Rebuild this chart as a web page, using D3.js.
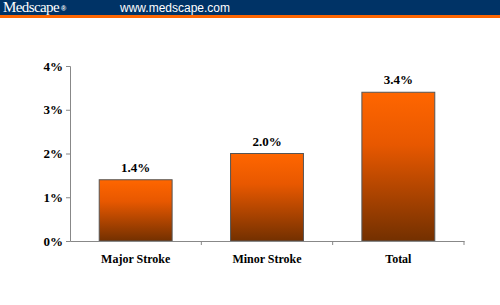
<!DOCTYPE html>
<html>
<head>
<meta charset="utf-8">
<script src="https://cdn.jsdelivr.net/npm/d3@7"></script>
<style>
  body { margin: 0; background: #fff; }
</style>
</head>
<body>
<div id="chart"></div>
<script>
// data
const categories = ['Major Stroke', 'Minor Stroke', 'Total'];
const values = [1.4, 2.0, 3.4];
const valueLabels = ['1.4%', '2.0%', '3.4%'];
const yTicks = [0, 1, 2, 3, 4];

const SERIF = "'Liberation Serif', 'Times New Roman', Times, serif";
const SANS = "'Liberation Sans', Arial, sans-serif";

const W = 500, H = 305;
const margin = {top: 66, left: 70, right: 36, bottom: 64};

const svg = d3.select('#chart').append('svg')
    .attr('width', W)
    .attr('height', H);

// header band
svg.append('rect').attr('x', 0).attr('y', 0).attr('width', W).attr('height', 15).attr('fill', '#003366');
svg.append('rect').attr('x', 0).attr('y', 15).attr('width', W).attr('height', 3).attr('fill', '#ff6600');
svg.append('text')
    .attr('x', 3).attr('y', 12)
    .attr('fill', '#fff')
    .attr('font-family', SERIF)
    .attr('font-size', 15)
    .attr('letter-spacing', -0.6)
    .text('Medscape');
svg.append('text')
    .attr('x', 61).attr('y', 11)
    .attr('fill', '#fff')
    .attr('font-family', SANS)
    .attr('font-size', 7)
    .attr('font-weight', 'bold')
    .text('®');
svg.append('text')
    .attr('x', 120).attr('y', 12)
    .attr('fill', '#fff')
    .attr('font-family', SANS)
    .attr('font-size', 12)
    .text('www.medscape.com');

// gradient
const defs = svg.append('defs');
const grad = defs.append('linearGradient')
    .attr('id', 'barGrad')
    .attr('x1', 0).attr('y1', 0).attr('x2', 0).attr('y2', 1);
grad.append('stop').attr('offset', '0%').attr('stop-color', '#ff6600');
grad.append('stop').attr('offset', '35%').attr('stop-color', '#e85800');
grad.append('stop').attr('offset', '100%').attr('stop-color', '#733000');

const innerW = W - margin.left - margin.right;
const innerH = H - margin.top - margin.bottom;

const g = svg.append('g')
    .attr('transform', `translate(${margin.left},${margin.top})`);

const x = d3.scaleBand()
    .domain(categories)
    .range([0, innerW]);

const y = d3.scaleLinear()
    .domain([0, 4])
    .range([innerH, 0]);

const barW = x.bandwidth() * 0.555;

// bars
g.selectAll('rect.bar')
    .data(values)
    .enter()
    .append('rect')
    .attr('class', 'bar')
    .attr('x', (d, i) => x(categories[i]) + (x.bandwidth() - barW) / 2)
    .attr('y', d => y(d))
    .attr('width', barW)
    .attr('height', d => innerH - y(d))
    .attr('fill', 'url(#barGrad)')
    .attr('stroke', '#555')
    .attr('stroke-width', 1);

// value labels
g.selectAll('text.val')
    .data(values)
    .enter()
    .append('text')
    .attr('class', 'val')
    .attr('x', (d, i) => x(categories[i]) + x.bandwidth() / 2)
    .attr('y', d => y(d) - 8)
    .attr('text-anchor', 'middle')
    .attr('font-family', SERIF)
    .attr('font-size', 13)
    .attr('font-weight', 'bold')
    .text((d, i) => valueLabels[i]);

// y axis
const yAxis = g.append('g')
    .call(d3.axisLeft(y).tickValues(yTicks).tickSize(4).tickFormat(d => d + '%'))
    .attr('font-family', SERIF)
    .attr('font-size', 13)
    .attr('font-weight', 'bold');
yAxis.select('.domain').attr('stroke', '#888');
yAxis.selectAll('.tick line').attr('stroke', '#888');
yAxis.selectAll('.tick text')
    .attr('x', -7)
    .attr('fill', '#000');

// x axis
const xAxis = g.append('g')
    .attr('transform', `translate(0,${innerH})`)
    .call(d3.axisBottom(x).tickSize(0).tickPadding(13))
    .attr('font-family', SERIF)
    .attr('font-size', 12)
    .attr('font-weight', 'bold');
xAxis.select('.domain').attr('stroke', '#888');
xAxis.selectAll('.tick text')
    .attr('fill', '#000');

// category boundary ticks
g.selectAll('line.sep')
    .data(categories)
    .enter()
    .append('line')
    .attr('class', 'sep')
    .attr('x1', d => x(d) + x.bandwidth())
    .attr('x2', d => x(d) + x.bandwidth())
    .attr('y1', innerH)
    .attr('y2', innerH + 4)
    .attr('stroke', '#888');
</script>
</body>
</html>
